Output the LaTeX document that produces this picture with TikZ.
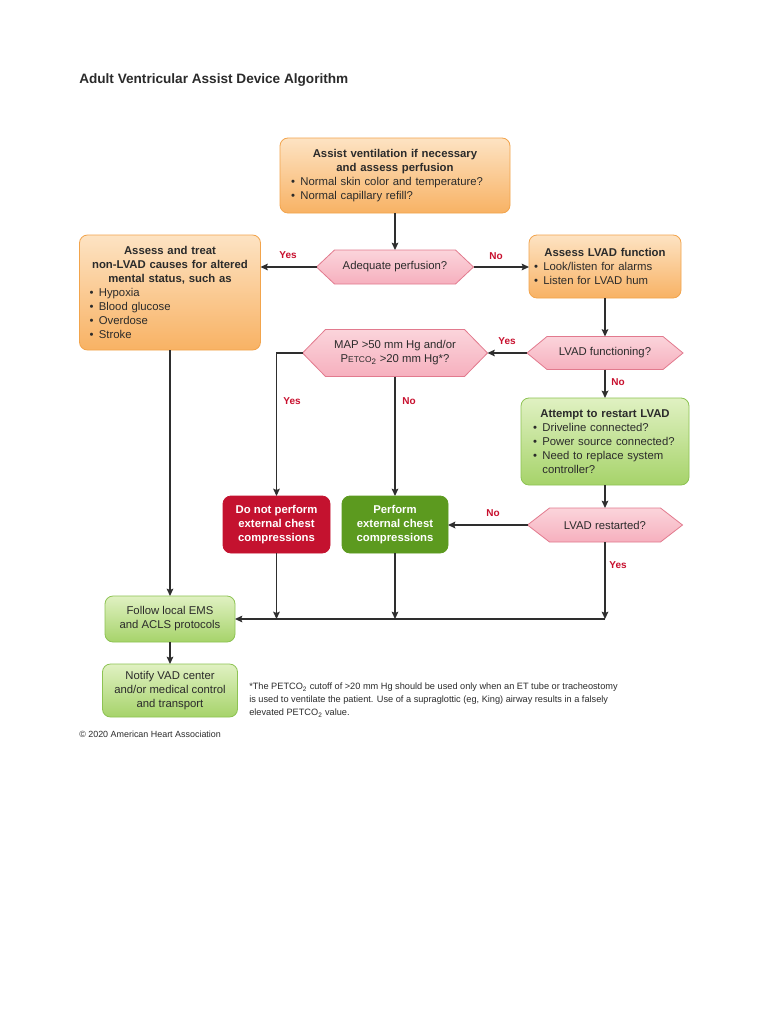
\documentclass[tikz,border=0pt]{standalone}
\usepackage{fontspec}
\setmainfont{Liberation Sans}
\usetikzlibrary{arrows.meta}
\definecolor{otop}{HTML}{FDE3C3}
\definecolor{obot}{HTML}{F8B264}
\definecolor{oline}{HTML}{F2A44C}
\definecolor{ptop}{HTML}{FBD4DB}
\definecolor{pbot}{HTML}{F6B0BE}
\definecolor{pline}{HTML}{E27A8E}
\definecolor{gtop}{HTML}{E0F1C2}
\definecolor{gbot}{HTML}{A6D36A}
\definecolor{gline}{HTML}{8DC352}
\definecolor{redbox}{HTML}{C4122F}
\definecolor{grnbox}{HTML}{5C9A1F}
\definecolor{lred}{HTML}{C8102E}
\definecolor{txt}{HTML}{2B2B2B}
\definecolor{lin}{HTML}{2E2E2E}
\newcommand\fs{\fontsize{8.5}{10.5}\selectfont}
\newcommand\bl{\par\noindent\hbox to 7pt{\textbullet\hss}}
\newcommand\blm[1]{\par\noindent\hbox to 7pt{\textbullet\hss}\parbox[t]{\dimexpr\linewidth-7pt\relax}{\raggedright #1}}
\newcommand\hexnode[7]{%
  \path[hexfill] ({#2-#4/2},#3) -- ({#2-#4/2+#6},{#3-#5/2}) -- ({#2+#4/2-#6},{#3-#5/2})
    -- ({#2+#4/2},#3) -- ({#2+#4/2-#6},{#3+#5/2}) -- ({#2-#4/2+#6},{#3+#5/2}) -- cycle;
  \node[hexnode, minimum width={#4*0.75pt}, minimum height={#5*0.75pt}] (#1) at (#2,#3) {#7};}
\tikzset{
  box/.style={rounded corners=6pt, line width=0.6pt, inner sep=0pt, outer sep=0pt,
    font=\fs, text=txt},
  obox/.style={box, top color=otop, bottom color=obot, draw=oline},
  gbox/.style={box, top color=gtop, bottom color=gbot, draw=gline},
  rbox/.style={box, fill=redbox, draw=redbox, text=white, font=\fs\bfseries, align=center},
  dgbox/.style={box, fill=grnbox, draw=grnbox, text=white, font=\fs\bfseries, align=center},
  hexfill/.style={top color=ptop, bottom color=pbot, draw=pline, line width=0.6pt},
  hexnode/.style={inner sep=0pt, outer sep=0pt, font=\fs, text=txt, align=center},
  arr/.style={draw=lin, line width=0.9pt, -{Stealth[length=5.5pt,width=5pt,inset=1pt]}},
  arrthick/.style={arr, line width=1.6pt},
  lbl/.style={font=\fontsize{7.5}{9}\selectfont\bfseries, text=lred, inner sep=0pt},
}
\begin{document}
\begin{tikzpicture}[x=0.75pt,y=-0.75pt]
\useasboundingbox (0,0) rectangle (768,1024);
\fill[white] (0,0) rectangle (768,1024);

\node[anchor=west, font=\fontsize{10.2}{12}\selectfont\bfseries, text=txt, inner sep=0pt] (title) at (79,80) {Adult Ventricular Assist Device Algorithm};

% top box
\node[obox, minimum width={230*0.75pt}, minimum height={75*0.75pt}, text width={208*0.75pt}, align=left] (b1) at (395,175.5)
 {{\centering\bfseries Assist ventilation if necessary\\and assess perfusion\par}
  \bl Normal skin color and temperature?
  \bl Normal capillary refill?};

% left box
\node[obox, minimum width={181*0.75pt}, minimum height={115*0.75pt}, text width={161*0.75pt}, align=left] (lb) at (170,292.5)
 {{\centering\bfseries Assess and treat\\non-LVAD causes for altered\\mental status, such as\par}
  \bl Hypoxia
  \bl Blood glucose
  \bl Overdose
  \bl Stroke};

% right box
\node[obox, minimum width={152*0.75pt}, minimum height={63*0.75pt}, text width={142*0.75pt}, align=left] (rb) at (605,266.5)
 {{\centering\bfseries Assess LVAD function\par}
  \bl Look/listen for alarms
  \bl Listen for LVAD hum};

% hexagons
\hexnode{dp}{395}{267}{157}{34}{18}{Adequate perfusion?}
\hexnode{lf}{605}{353}{156}{33}{20}{LVAD functioning?}
\hexnode{map}{395}{353}{185}{47}{23}{MAP >50 mm Hg and/or\\P{\fontsize{6.3}{6}\selectfont ETCO}\textsubscript{2} >20 mm Hg*?}
\hexnode{rs}{605}{525}{155}{34}{22}{LVAD restarted?}

% green restart box
\node[gbox, minimum width={168*0.75pt}, minimum height={87*0.75pt}, text width={144*0.75pt}, align=left] (ar) at (605,441.5)
 {{\centering\bfseries Attempt to restart LVAD\par}
  \bl Driveline connected?
  \bl Power source connected?
  \blm{Need to replace system\\controller?}};

% red / dark green
\node[rbox, minimum width={107*0.75pt}, minimum height={57*0.75pt}] (nocpr) at (276.5,524.5)
 {Do not perform\\external chest\\compressions};
\node[dgbox, minimum width={106*0.75pt}, minimum height={57*0.75pt}] (cpr) at (395,524.5)
 {Perform\\external chest\\compressions};

% bottom green boxes
\node[gbox, align=center, minimum width={130*0.75pt}, minimum height={46*0.75pt}] (ems) at (170,619)
 {Follow local EMS\\and ACLS protocols};
\node[gbox, align=center, minimum width={135*0.75pt}, minimum height={53*0.75pt}] (notify) at (170,690.5)
 {Notify VAD center\\and/or medical control\\and transport};

% footnote
\node[anchor=north west, align=left, inner sep=0pt, text=txt, font=\fontsize{6.9}{9.75}\selectfont] (fn) at (249,683)
 {*The PETCO\textsubscript{2} cutoff of >20 mm Hg should be used only when an ET tube or tracheostomy\\
  is used to ventilate the patient. Use of a supraglottic (eg, King) airway results in a falsely\\
  elevated PETCO\textsubscript{2} value.};
\node[anchor=west, inner sep=0pt, text=txt, font=\fontsize{6.7}{8}\selectfont] (copy) at (79,734)
 {© 2020 American Heart Association};

% connectors
\draw[arr] (b1.south) -- (dp.north);
\draw[arr] (dp.west) -- (dp.west -| lb.east);
\draw[arr] (dp.east) -- (dp.east -| rb.west);
\draw[arr] (rb.south) -- (lf.north);
\draw[arr] (lf.west) -- (map.east);
\draw[arrthick] (lf.south) -- (ar.north);
\draw[arr] (map.west) -| (nocpr.north);
\draw[arr] (map.south) -- (cpr.north);
\draw[arr] (ar.south) -- (rs.north);
\draw[arrthick] (rs.west) -- (rs.west -| cpr.east);
\draw[arr] (lb.south) -- (ems.north);
\draw[arr] (ems.south) -- (notify.north);
\coordinate (jr) at (rs.south |- ems.east);
\draw[arr] (rs.south) -- (jr);
\draw[arr] (nocpr.south) -- (nocpr.south |- ems.east);
\draw[arr] (cpr.south) -- (cpr.south |- ems.east);
\draw[arr] (jr) -- (ems.east);

% labels
\node[lbl] (l1) at (288,255) {Yes};
\node[lbl] (l2) at (496,256) {No};
\node[lbl] (l3) at (507,341) {Yes};
\node[lbl] (l4) at (618,382) {No};
\node[lbl] (l5) at (292,401) {Yes};
\node[lbl] (l6) at (409,401) {No};
\node[lbl] (l7) at (493,513) {No};
\node[lbl] (l8) at (618,565) {Yes};
\end{tikzpicture}
\end{document}
